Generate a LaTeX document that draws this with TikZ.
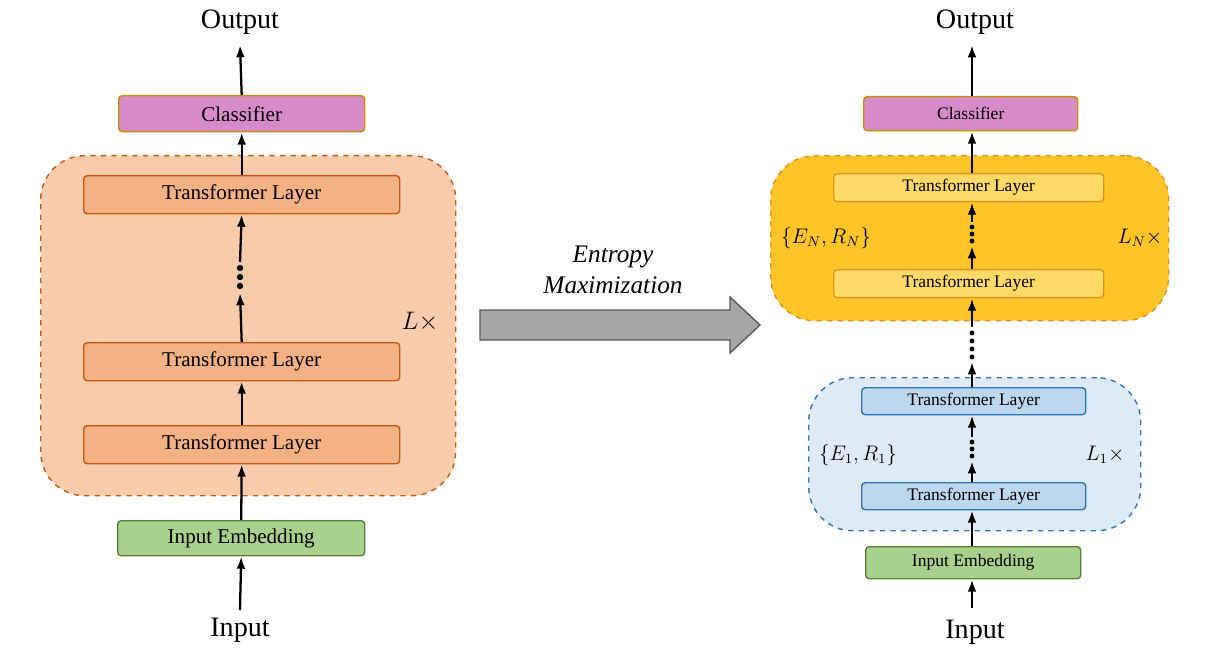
\documentclass[tikz,border=0pt]{standalone}
\usepackage{fontspec}
\setmainfont{Liberation Serif}
\usetikzlibrary{arrows.meta}
\definecolor{pinkc}{HTML}{D88BC9}
\definecolor{goldb}{HTML}{BF9000}
\definecolor{orfill}{HTML}{F8CBAD}
\definecolor{orbox}{HTML}{F4B183}
\definecolor{orline}{HTML}{C55A11}
\definecolor{greenf}{HTML}{A9D18E}
\definecolor{greenl}{HTML}{548235}
\definecolor{yelf}{HTML}{FFC428}
\definecolor{yelbox}{HTML}{FFD966}
\definecolor{yell}{HTML}{D9931F}
\definecolor{bluef}{HTML}{DEEBF7}
\definecolor{bluebox}{HTML}{BDD7EE}
\definecolor{bluel}{HTML}{2E75B6}
\tikzset{
  box/.style={draw, thick, rounded corners=2pt, inner sep=0pt, anchor=north west},
  grp/.style={draw, thick, dashed, rounded corners=25pt, anchor=north west},
  arr/.style={-{Latex[length=7pt,width=5pt]}, line width=1.3pt},
  lbl/.style={font=\fontsize{16}{18}\selectfont},
}
\begin{document}
\begin{tikzpicture}[x=0.02cm,y=-0.02cm]
	\useasboundingbox (0,0) rectangle (1224,655);
	% left model
	\node[grp, fill=orfill, draw=orline, minimum width=415*0.02cm, minimum height=340*0.02cm] (lgrp) at (40,155) {};
	\node[box, fill=pinkc, draw=goldb, minimum width=246*0.02cm, minimum height=36*0.02cm] (lcls) at (118,95) {};
	\node[font=\large] at (lcls.center) {Classifier};
	\node[box, fill=orbox, draw=orline, minimum width=316*0.02cm, minimum height=38*0.02cm] (ltl3) at (83,175) {};
	\node[box, fill=orbox, draw=orline, minimum width=316*0.02cm, minimum height=38*0.02cm] (ltl2) at (83,342) {};
	\node[box, fill=orbox, draw=orline, minimum width=316*0.02cm, minimum height=38*0.02cm] (ltl1) at (83,425) {};
	\foreach \n in {ltl1,ltl2,ltl3} \node[font=\large] at (\n.center) {Transformer Layer};
	\node[box, fill=greenf, draw=greenl, minimum width=247*0.02cm, minimum height=35*0.02cm] (lemb) at (117,520) {};
	\node[font=\large] at (lemb.center) {Input Embedding};
	\node[lbl] (lout) at (240,22) {Output};
	\node[lbl] (lin) at (240,630) {Input};
	\coordinate (ldt) at (240,262);
	\coordinate (ldb) at (240,293);
	\foreach \y in {268,277,286} \fill (240,\y) circle (1.8pt);
	\node[font=\Large] at (420,322) {$L\times$};
	\coordinate (lo) at (240,45);
	\coordinate (li) at (240,610);
	\draw[arr] (li) -- (lemb.south);
	\draw[arr] (lemb.north) -- (ltl1.south);
	\draw[arr] (ltl1.north) -- (ltl2.south);
	\draw[arr] (ltl2.north) -- (ldb);
	\draw[arr] (ldt) -- (ltl3.south);
	\draw[arr] (ltl3.north) -- (lcls.south);
	\draw[arr] (lcls.north) -- (lo);
	% middle arrow
	\draw[draw=black!65, fill=black!35, thick] (480,310) -- (730,310) -- (730,297) -- (760,325) -- (730,353) -- (730,340) -- (480,340) -- cycle;
	\node[font=\Large\itshape, align=center] at (613,270) {Entropy\\Maximization};
	% right model
	\node[grp, fill=yelf, draw=yell, minimum width=398*0.02cm, minimum height=165*0.02cm] (ygrp) at (770,155) {};
	\node[grp, fill=bluef, draw=bluel, minimum width=332*0.02cm, minimum height=153*0.02cm] (bgrp) at (808,377) {};
	\node[box, fill=pinkc, draw=goldb, minimum width=214*0.02cm, minimum height=34*0.02cm] (rcls) at (863,96) {};
	\node at (rcls.center) {Classifier};
	\node[box, fill=yelbox, draw=yell, minimum width=270*0.02cm, minimum height=28*0.02cm] (ytl2) at (833,173) {};
	\node[box, fill=yelbox, draw=yell, minimum width=270*0.02cm, minimum height=28*0.02cm] (ytl1) at (833,269) {};
	\node[box, fill=bluebox, draw=bluel, minimum width=224*0.02cm, minimum height=27*0.02cm] (btl2) at (861,387) {};
	\node[box, fill=bluebox, draw=bluel, minimum width=224*0.02cm, minimum height=27*0.02cm] (btl1) at (861,482) {};
	\foreach \n in {ytl1,ytl2,btl1,btl2} \node at (\n.center) {Transformer Layer};
	\node[box, fill=greenf, draw=greenl, minimum width=215*0.02cm, minimum height=32*0.02cm] (remb) at (865,546) {};
	\node at (remb.center) {Input Embedding};
	\node[lbl] at (975,22) {Output};
	\node[lbl] at (975,632) {Input};
	% dotted gaps
	\foreach \y in {227,234,241} \fill (972,\y) circle (1.4pt);
	\foreach \y in {442,449,456} \fill (972,\y) circle (1.4pt);
	\foreach \y in {333,341,349,357} \fill (972,\y) circle (1.4pt);
	\coordinate (ydt) at (972,222);
	\coordinate (ydb) at (972,246);
	\coordinate (bdt) at (972,437);
	\coordinate (bdb) at (972,461);
	\coordinate (mdt) at (972,327);
	\coordinate (mdb) at (972,362);
	\node[font=\large] at (826,238) {$\{E_N,R_N\}$};
	\node[font=\large] at (1140,238) {$L_N\times$};
	\node[font=\large] at (858,455) {$\{E_1,R_1\}$};
	\node[font=\large] at (1105,455) {$L_1\times$};
	\coordinate (ro) at (972,45);
	\coordinate (ri) at (972,608);
	\draw[arr] (ri) -- (ri |- remb.south);
	\draw[arr] (ri |- remb.north) -- (ri |- btl1.south);
	\draw[arr] (ri |- btl1.north) -- (bdb);
	\draw[arr] (bdt) -- (ri |- btl2.south);
	\draw[arr] (ri |- btl2.north) -- (mdb);
	\draw[arr] (mdt) -- (ri |- ytl1.south);
	\draw[arr] (ri |- ytl1.north) -- (ydb);
	\draw[arr] (ydt) -- (ri |- ytl2.south);
	\draw[arr] (ri |- ytl2.north) -- (ri |- rcls.south);
	\draw[arr] (ri |- rcls.north) -- (ro);
\end{tikzpicture}
\end{document}
